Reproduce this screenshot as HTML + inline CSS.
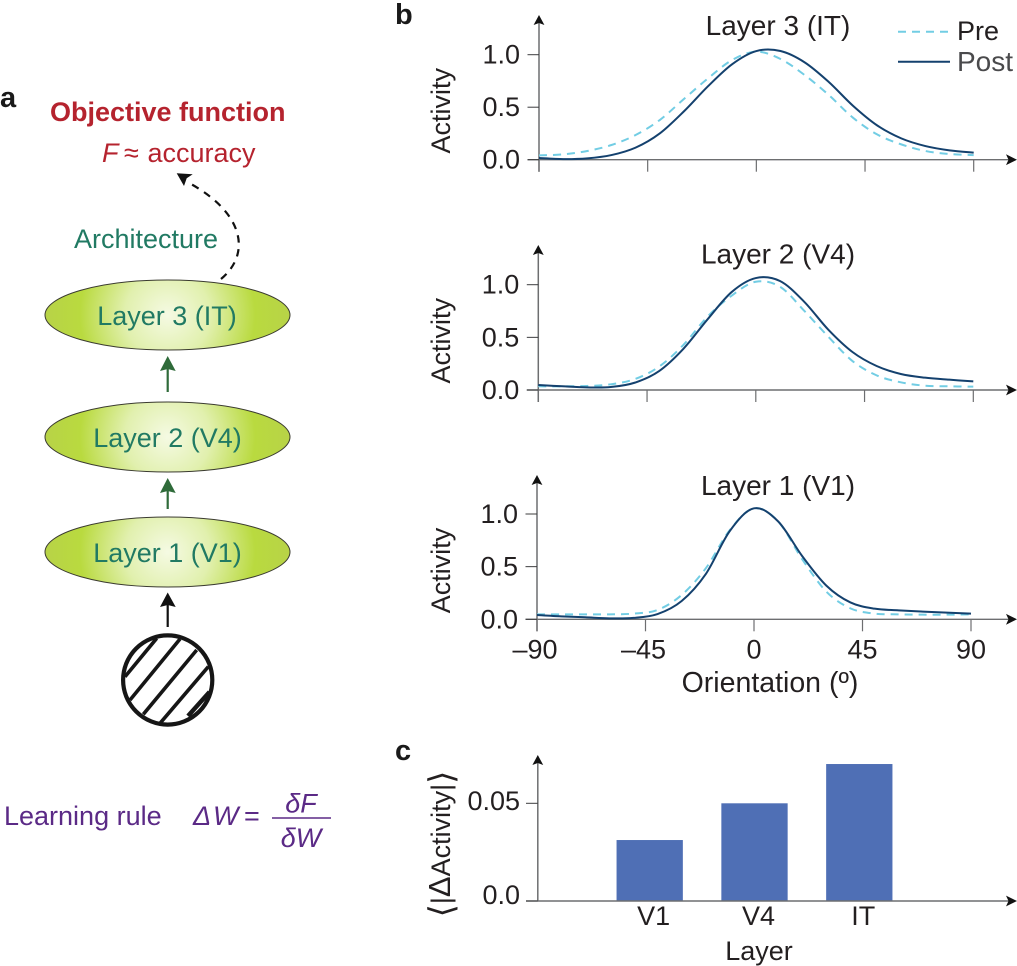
<!DOCTYPE html>
<html lang="en">
<head>
<meta charset="utf-8">
<title>Layered network tuning curves</title>
<style>
html,body{margin:0;padding:0;background:#fff;}
svg{display:block;font-family:"Liberation Sans","DejaVu Sans",sans-serif;}
text{fill:#231f20;font-size:27px;}
.teal{fill:#217a63;}
.red{fill:#b5232e;}
.purple{fill:#5b2a86;}
.letter{font-weight:bold;font-size:29px;fill:#1a1a1a;}
</style>
</head>
<body>
<svg id="figure" xmlns="http://www.w3.org/2000/svg" width="1017" height="966" viewBox="0 0 1017 966">
  <defs>
    <radialGradient id="g3" gradientUnits="userSpaceOnUse" cx="167.5" cy="315" r="122">
      <stop offset="0" stop-color="#f5fae3"/><stop offset=".35" stop-color="#e1f0ae"/><stop offset=".72" stop-color="#b9da3f"/><stop offset="1" stop-color="#b8d347"/>
    </radialGradient>
    <radialGradient id="g2" gradientUnits="userSpaceOnUse" cx="167.5" cy="437" r="122">
      <stop offset="0" stop-color="#f5fae3"/><stop offset=".35" stop-color="#e1f0ae"/><stop offset=".72" stop-color="#b9da3f"/><stop offset="1" stop-color="#b8d347"/>
    </radialGradient>
    <radialGradient id="g1" gradientUnits="userSpaceOnUse" cx="167.5" cy="552" r="122">
      <stop offset="0" stop-color="#f5fae3"/><stop offset=".35" stop-color="#e1f0ae"/><stop offset=".72" stop-color="#b9da3f"/><stop offset="1" stop-color="#b8d347"/>
    </radialGradient>
  </defs>

  <g>
    <text class="letter" x="0" y="107">a</text>
    <text class="red" x="50" y="121" style="font-size:27px;font-weight:bold">Objective function</text>
    <text class="red" x="102" y="162"><tspan font-style="italic">F</tspan><tspan x="124">≈</tspan><tspan x="147.5">accuracy</tspan></text>
    <text class="teal" x="74" y="248">Architecture</text>

    <path d="M221 279 C250 255 246 215 191 184" fill="none" stroke="#111" stroke-width="2.2" stroke-dasharray="7.5 6.5"/>
    <path d="M176.7 173.3 L192.7 174.3 L186.7 178.3 L184 186 Z" fill="#111"/>

    <ellipse cx="167.5" cy="315" rx="122.5" ry="35" fill="url(#g3)" stroke="#3a3a30" stroke-width="1"/>
    <text class="teal" x="167" y="325" text-anchor="middle">Layer 3 (IT)</text>
    <ellipse cx="167.5" cy="437" rx="122.5" ry="35" fill="url(#g2)" stroke="#3a3a30" stroke-width="1"/>
    <text class="teal" x="167.5" y="447" text-anchor="middle">Layer 2 (V4)</text>
    <ellipse cx="167.5" cy="552" rx="122.5" ry="35" fill="url(#g1)" stroke="#3a3a30" stroke-width="1"/>
    <text class="teal" x="167.5" y="562" text-anchor="middle">Layer 1 (V1)</text>

    <g>
      <line x1="167.7" y1="368" x2="167.7" y2="392" stroke="#2f6b3a" stroke-width="2.2"/>
      <path d="M167.7 356 L175.7 371 L167.7 369 L160 371 Z" fill="#2f6b3a"/>
    </g>
    <g>
      <line x1="167.7" y1="490" x2="167.7" y2="509" stroke="#2f6b3a" stroke-width="2.2"/>
      <path d="M167.7 478 L175.7 493 L167.7 491 L160 493 Z" fill="#2f6b3a"/>
    </g>
    <g>
      <line x1="167.7" y1="604" x2="167.7" y2="627" stroke="#111" stroke-width="2.2"/>
      <path d="M167.7 592.5 L175.7 607 L167.7 605 L160 607 Z" fill="#111"/>
    </g>

    <g stroke="#161616" fill="none">
      <circle cx="167.7" cy="680" r="44.6" stroke-width="4.2" fill="#fff"/>
      <g stroke-width="3.6">
        <line x1="125" y1="676.7" x2="156.7" y2="638.3"/>
        <line x1="130" y1="700" x2="180" y2="639"/>
        <line x1="143.3" y1="714.3" x2="196.7" y2="650"/>
        <line x1="160" y1="723.3" x2="208.3" y2="666.7"/>
        <line x1="188" y1="716" x2="209.5" y2="692" stroke-width="4.4"/>
      </g>
    </g>

    <text class="purple" x="4" y="825">Learning rule</text>
    <text class="purple" x="193" y="825" style="font-style:italic">Δ<tspan x="213">W</tspan></text>
    <text class="purple" x="244" y="825">=</text>
    <text class="purple" x="301" y="812.5" text-anchor="middle" style="font-style:italic">δF</text>
    <line x1="272" y1="818" x2="331" y2="818" stroke="#5b2a86" stroke-width="1.6"/>
    <text class="purple" x="301" y="847" text-anchor="middle" style="font-style:italic">δW</text>
  </g>

  <text class="letter" x="395" y="24">b</text>
  <text class="letter" x="395" y="760">c</text>

  <g id="panel-b"></g>

  <g>
    <line x1="898" y1="31.7" x2="950" y2="31.7" stroke="#72cde4" stroke-width="2" stroke-dasharray="8 6"/>
    <text x="957" y="40">Pre</text>
    <line x1="898" y1="61.7" x2="950" y2="61.7" stroke="#14416e" stroke-width="2"/>
    <text x="957" y="71" style="fill:#4a4a4c;font-size:28px">Post</text>
  </g>

  <g id="panel-c"></g>
</svg>

<script>
// Orientation samples (degrees)
const orientations = [-90,-80,-70,-60,-50,-40,-30,-20,-10,0,10,20,30,40,50,60,70,80,90];

// Tuning curves
const it_pre  = [.041,.051,.083,.14,.235,.378,.578,.775,.95,1.029,.959,.806,.616,.4,.241,.146,.083,.054,.044];
const it_post = [.016,.006,.013,.044,.115,.25,.46,.70,.91,1.035,1.035,.927,.74,.514,.327,.203,.13,.089,.067];
const v4_pre  = [.035,.035,.038,.054,.104,.222,.427,.696,.896,1.028,.981,.753,.506,.275,.139,.073,.041,.035,.032];
const v4_post = [.047,.035,.025,.028,.07,.18,.39,.67,.93,1.063,1.035,.839,.573,.361,.228,.152,.117,.098,.082];
const v1_pre  = [.047,.047,.047,.047,.054,.089,.231,.484,.848,1.054,.93,.57,.263,.104,.054,.047,.044,.044,.047];
const v1_post = [.041,.028,.019,.009,.013,.05,.174,.43,.84,1.054,.93,.60,.32,.16,.101,.085,.073,.063,.054];

// Axis ticks
const xTickValues = [-90,-45,0,45,90];
const xTickLabels = ['–90','–45','0','45','90'];
const yTickValues = [0,0.5,1];
const yTickLabels = ['0.0','0.5','1.0'];

// Bar chart
const barCategories = ['V1','V4','IT'];
const barValues = [0.0312,0.05,0.0701];
const barTickValues = [0,0.05];
const barTickLabels = ['0.0','0.05'];

const NS = 'http://www.w3.org/2000/svg';
const AXIS = '#6d6e70';

function add(parent, tag, attrs, text) {
  const el = document.createElementNS(NS, tag);
  for (const k in attrs) el.setAttribute(k, attrs[k]);
  if (text !== undefined) el.textContent = text;
  parent.appendChild(el);
  return el;
}

function named(el, name) {
  
  
  return el;
}

function smoothPath(pts) {
  let d = 'M' + pts[0][0].toFixed(2) + ' ' + pts[0][1].toFixed(2);
  for (let i = 0; i < pts.length - 1; i++) {
    const p0 = pts[Math.max(i - 1, 0)], p1 = pts[i], p2 = pts[i + 1], p3 = pts[Math.min(i + 2, pts.length - 1)];
    const c1x = p1[0] + (p2[0] - p0[0]) / 6, c1y = p1[1] + (p2[1] - p0[1]) / 6;
    const c2x = p2[0] - (p3[0] - p1[0]) / 6, c2y = p2[1] - (p3[1] - p1[1]) / 6;
    d += ' C' + c1x.toFixed(2) + ' ' + c1y.toFixed(2) + ' ' + c2x.toFixed(2) + ' ' + c2y.toFixed(2) + ' ' + p2[0].toFixed(2) + ' ' + p2[1].toFixed(2);
  }
  return d;
}

function arrowUp(g, x, tip, name) {
  named(add(g, 'path', {d: 'M' + x + ' ' + tip + ' L' + (x + 5.4) + ' ' + (tip + 10) + ' L' + x + ' ' + (tip + 8) + ' L' + (x - 5.4) + ' ' + (tip + 10) + ' Z', fill: '#111'}), name);
}

function arrowRight(g, tip, y, name) {
  named(add(g, 'path', {d: 'M' + tip + ' ' + y + ' L' + (tip - 11) + ' ' + (y + 5.4) + ' L' + (tip - 8.5) + ' ' + y + ' L' + (tip - 11) + ' ' + (y - 5.4) + ' Z', fill: '#111'}), name);
}

function drawPanel(cfg) {
  const root = document.getElementById('panel-b');
  const g = named(add(root, 'g', {}), 'tuning-plot-' + cfg.id);
  const xOf = d => cfg.xLeft + (d + 90) * (cfg.xRight - cfg.xLeft) / 180;
  const yOf = v => cfg.yZero - v * (cfg.yZero - cfg.yOne);

  named(add(g, 'line', {x1: xOf(-90), y1: cfg.yZero + 12, x2: xOf(-90), y2: cfg.arrowTop + 6, stroke: AXIS, 'stroke-width': 1.5}), 'y-axis-' + cfg.id);
  arrowUp(g, xOf(-90), cfg.arrowTop, 'y-axis-arrow-' + cfg.id);
  named(add(g, 'line', {x1: xOf(-90) - 11.5, y1: cfg.yZero, x2: 1010, y2: cfg.yZero, stroke: AXIS, 'stroke-width': 1.4}), 'x-axis-' + cfg.id);
  arrowRight(g, 1017, cfg.yZero, 'x-axis-arrow-' + cfg.id);

  xTickValues.forEach((t, i) => {
    named(add(g, 'line', {x1: xOf(t), y1: cfg.yZero, x2: xOf(t), y2: cfg.yZero + 12, stroke: AXIS, 'stroke-width': 1.2}), 'x-tick-' + cfg.id + '-' + xTickLabels[i]);
    if (cfg.showX) {
      named(add(g, 'text', {x: xOf(t) + (t < 0 ? -2 : 0), y: 658.5, 'text-anchor': 'middle'}, xTickLabels[i]), 'x-tick-label-' + xTickLabels[i]);
    }
  });
  yTickValues.forEach((t, i) => {
    named(add(g, 'line', {x1: xOf(-90) - 11.5, y1: yOf(t), x2: xOf(-90), y2: yOf(t), stroke: '#3c3c3e', 'stroke-width': 1}), 'y-tick-' + cfg.id + '-' + yTickLabels[i]);
    named(add(g, 'text', {x: xOf(-90) - 19, y: yOf(t) + 9, 'text-anchor': 'end'}, yTickLabels[i]), 'y-tick-label-' + cfg.id + '-' + yTickLabels[i]);
  });

  named(add(g, 'text', {x: 778, y: cfg.titleY, 'text-anchor': 'middle', style: 'font-size:28px'}, cfg.title), 'title-' + cfg.id);
  named(add(g, 'text', {transform: 'translate(450 ' + cfg.labelY + ') rotate(-90)', 'text-anchor': 'middle'}, 'Activity'), 'y-axis-title-' + cfg.id);

  const toPts = vals => vals.map((v, i) => [xOf(orientations[i]), yOf(v)]);
  named(add(g, 'path', {d: smoothPath(toPts(cfg.pre)), fill: 'none', stroke: '#72cde4', 'stroke-width': 2, 'stroke-dasharray': '8 6'}), 'pre-curve-' + cfg.id);
  named(add(g, 'path', {d: smoothPath(toPts(cfg.post)), fill: 'none', stroke: '#14416e', 'stroke-width': 2}), 'post-curve-' + cfg.id);
}

drawPanel({id: 'it', title: 'Layer 3 (IT)', titleY: 35, labelY: 110.8, xLeft: 539, xRight: 973.7, yZero: 159.7, yOne: 54.7, arrowTop: 15, pre: it_pre, post: it_post, showX: false});
drawPanel({id: 'v4', title: 'Layer 2 (V4)', titleY: 263.5, labelY: 340.7, xLeft: 538.3, xRight: 973.3, yZero: 390, yOne: 284.7, arrowTop: 245, pre: v4_pre, post: v4_post, showX: false});
drawPanel({id: 'v1', title: 'Layer 1 (V1)', titleY: 495, labelY: 570.5, xLeft: 537, xRight: 971, yZero: 619.3, yOne: 514, arrowTop: 475, pre: v1_pre, post: v1_post, showX: true});

named(add(document.getElementById('panel-b'), 'text', {x: 770, y: 692, 'text-anchor': 'middle', style: 'font-size:28.5px'}, 'Orientation (º)'), 'x-axis-title');

(function drawBars() {
  const root = document.getElementById('panel-c');
  const baseY = 901, axisX = 537.8;
  const yOf = v => baseY - v * (901 - 803.3) / 0.05;
  const xOf = i => 649.7 + i * 104.8;
  const barW = 66.3;

  barValues.forEach((v, i) => {
    named(add(root, 'rect', {x: xOf(i) - barW / 2, y: yOf(v), width: barW, height: baseY - yOf(v), fill: '#4f6fb5'}), 'bar-' + barCategories[i]);
    named(add(root, 'text', {x: xOf(i) + 4, y: 925, 'text-anchor': 'middle'}, barCategories[i]), 'bar-label-' + barCategories[i]);
  });

  named(add(root, 'line', {x1: axisX, y1: baseY, x2: axisX, y2: 761, stroke: AXIS, 'stroke-width': 1.5}), 'bar-y-axis');
  arrowUp(root, axisX, 755, 'bar-y-axis-arrow');
  named(add(root, 'line', {x1: 526, y1: baseY, x2: 1010, y2: baseY, stroke: AXIS, 'stroke-width': 1.5}), 'bar-x-axis');
  arrowRight(root, 1017, baseY, 'bar-x-axis-arrow');

  barTickValues.forEach((t, i) => {
    named(add(root, 'line', {x1: 526, y1: yOf(t), x2: axisX, y2: yOf(t), stroke: '#3c3c3e', 'stroke-width': 1}), 'bar-y-tick-' + barTickLabels[i]);
    named(add(root, 'text', {x: 520, y: yOf(t) + (t === 0 ? 3 : 6.5), 'text-anchor': 'end'}, barTickLabels[i]), 'bar-y-tick-label-' + barTickLabels[i]);
  });

  named(add(root, 'text', {x: 759, y: 960, 'text-anchor': 'middle'}, 'Layer'), 'bar-x-axis-title');

  const yTitle = add(root, 'text', {transform: 'translate(450 844) rotate(-90)', 'text-anchor': 'middle'});
  named(yTitle, 'bar-y-axis-title');
  add(yTitle, 'tspan', {style: 'font-size:34px', dy: 3}, '⟨');
  add(yTitle, 'tspan', {dy: -3}, '|');
  add(yTitle, 'tspan', {style: 'font-size:31px'}, 'Δ');
  add(yTitle, 'tspan', {}, 'Activity|');
  add(yTitle, 'tspan', {style: 'font-size:34px', dy: 3}, '⟩');
})();
</script>
</body>
</html>
